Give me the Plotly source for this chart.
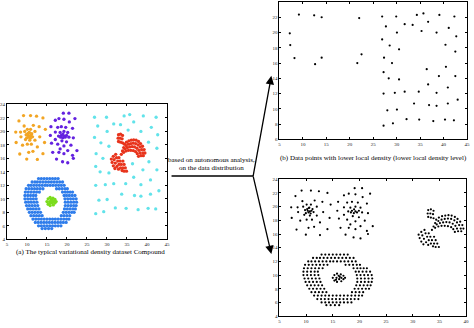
import plotly.graph_objects as go

W, H = 474, 328

# ---------------- Compound dataset, one list of (x, y) per cluster ----------------
# outer (low density) members of the two upper-left clusters
orange_sparse = [(9.15, 22.35), (12.4, 22.25), (14.0, 22.0), (7.2, 19.9), (7.3, 18.35),
                 (8.2, 16.65), (12.6, 15.85), (14.0, 16.7)]
orange_dense = [(10.9, 22.35), (8.0, 21.55), (11.6, 20.9), (9.3, 20.8), (10.1, 20.3),
                (10.9, 20.3), (13.05, 20.7), (8.4, 19.9), (9.45, 20.0), (10.6, 19.85),
                (11.2, 19.65), (10.3, 19.4), (10.7, 19.3), (10.45, 19.15), (11.0, 19.4),
                (9.95, 19.05), (12.0, 20.0), (13.2, 19.2), (8.5, 19.2), (9.65, 18.8),
                (10.7, 18.7), (12.0, 18.7), (8.9, 17.95), (10.1, 18.1), (11.1, 18.1),
                (12.6, 17.7), (11.5, 17.05), (10.45, 16.9), (9.95, 15.9), (14.6, 20.3),
                (14.4, 18.35), (10.2, 19.65), (10.85, 19.0), (9.8, 19.5), (11.4, 19.2),
                (10.5, 19.8)]
purple_sparse = [(22.0, 21.9), (22.5, 17.15), (21.6, 16.0)]
purple_dense = [(19.1, 22.7), (20.5, 22.7), (17.1, 21.65), (18.0, 21.9), (19.25, 21.8),
                (20.6, 21.4), (16.0, 20.7), (17.7, 20.6), (18.6, 20.7), (19.7, 20.6),
                (21.4, 20.45), (17.1, 19.9), (18.3, 19.85), (19.25, 20.0), (20.2, 19.85),
                (18.6, 19.4), (19.25, 19.3), (18.95, 19.05), (19.55, 19.15), (17.9, 19.3),
                (20.5, 19.15), (21.6, 19.05), (15.85, 19.4), (17.1, 18.8), (18.75, 18.6),
                (19.9, 18.45), (17.7, 18.1), (16.15, 18.25), (19.25, 17.85), (21.0, 17.95),
                (18.3, 17.4), (20.2, 17.15), (16.45, 16.9), (18.0, 16.9), (19.25, 16.7),
                (21.4, 16.45), (17.4, 15.9), (18.9, 15.5), (20.2, 15.35), (19.0, 19.6),
                (18.4, 19.15), (19.9, 19.4)]

# ring cluster, listed row by row (row y, then the x of each point in the row)
ring_row_y = [13.0, 12.5, 12.0, 11.5, 11.0, 10.5, 10.0, 9.5, 9.0, 8.5, 8.0, 7.5, 7.0,
              6.5, 6.0, 5.6]
ring_row_x = [
    [12.9, 13.6, 14.3, 15.0, 15.7, 16.4, 17.1, 17.8],
    [11.3, 12.0, 12.6, 13.3, 14.0, 14.7, 15.4, 16.1, 16.8, 17.5, 18.2, 18.9],
    [10.4, 11.0, 11.7, 12.4, 13.1, 13.8, 14.5, 15.1, 15.8, 16.5, 17.2, 17.9, 18.6, 19.3],
    [9.8, 10.5, 11.2, 11.9, 12.6, 13.3, 14.0, 17.4, 18.1, 18.8, 19.5, 20.1],
    [9.6, 10.3, 11.0, 11.7, 12.4, 13.1, 18.9, 19.6, 20.2, 20.8, 21.4],
    [9.5, 10.2, 10.9, 11.6, 12.2, 19.3, 19.9, 20.6, 21.3, 22.0],
    [9.5, 10.2, 10.9, 11.6, 12.3, 19.5, 20.2, 20.9, 21.6, 22.3],
    [9.7, 10.4, 11.1, 11.8, 12.5, 19.6, 20.3, 21.0, 21.7, 22.4],
    [9.9, 10.6, 11.3, 12.0, 12.7, 19.6, 20.3, 21.0, 21.7, 22.3],
    [10.2, 10.9, 11.6, 12.3, 13.0, 19.4, 20.1, 20.8, 21.5, 22.1],
    [10.6, 11.3, 12.0, 12.7, 13.4, 19.1, 19.8, 20.5, 21.2, 21.8],
    [11.0, 11.7, 12.4, 13.1, 13.8, 18.6, 19.3, 20.0, 20.7],
    [11.5, 12.2, 12.9, 13.6, 14.3, 15.0, 15.7, 16.4, 17.1, 17.8, 18.5, 19.2, 19.9, 20.5],
    [12.1, 12.8, 13.5, 14.2, 14.9, 15.6, 16.3, 17.0, 17.7, 18.4, 19.1, 19.8],
    [12.9, 13.6, 14.3, 15.0, 15.7, 16.4, 17.1, 17.8, 18.5],
    [13.8, 14.6, 15.4, 16.2],
]

core = [(15.0, 9.6), (15.3, 10.0), (15.3, 9.2), (15.7, 9.6), (15.8, 10.2), (15.8, 9.0),
        (16.1, 9.9), (16.2, 9.4), (16.5, 10.1), (16.6, 9.6), (16.6, 9.1), (17.0, 9.9),
        (17.0, 9.4), (17.3, 9.6), (15.6, 9.3), (16.3, 9.75)]

moon = [
    # upper-left lobe
    (32.9, 19.5), (33.4, 19.6), (33.9, 19.4), (32.8, 19.0), (33.3, 19.0), (33.8, 18.9),
    (32.9, 18.5), (33.4, 18.4), (33.9, 18.3),
    # curved bands
    (34.4, 18.1), (34.9, 18.4), (35.5, 18.6), (36.1, 18.7), (36.7, 18.75), (37.3, 18.7),
    (37.9, 18.5), (38.4, 18.2), (38.9, 17.8), (39.3, 17.3), (39.5, 16.8),
    (34.2, 17.6), (34.8, 17.9), (35.4, 18.1), (36.0, 18.2), (36.6, 18.25), (37.2, 18.2),
    (37.8, 18.0), (38.3, 17.7), (38.7, 17.3), (39.0, 16.8), (39.1, 16.4),
    (33.9, 17.1), (34.5, 17.4), (35.1, 17.6), (35.7, 17.7), (36.3, 17.75), (36.9, 17.7),
    (37.5, 17.5), (38.0, 17.2), (38.3, 16.8), (38.5, 16.4),
    (33.6, 16.6), (34.2, 16.9), (34.8, 17.1), (35.4, 17.2), (36.0, 17.2), (36.6, 17.15),
    (37.2, 17.0), (37.6, 16.7), (37.9, 16.3),
    # lower-left lobe
    (31.1, 15.9), (31.3, 15.4), (31.6, 14.9), (32.0, 14.5),
    (31.6, 16.3), (31.8, 15.8), (32.1, 15.3), (32.5, 14.8), (32.9, 14.4),
    (32.2, 16.6), (32.4, 16.1), (32.7, 15.6), (33.0, 15.1), (33.4, 14.6), (33.8, 14.2),
    (33.0, 16.1), (33.3, 15.6), (33.6, 15.1), (34.0, 14.6), (34.3, 14.1),
    (34.0, 15.6), (34.3, 15.1), (34.6, 14.6), (34.9, 14.1),
]

background = [(26.9, 22.1), (27.7, 20.8), (26.9, 19.1), (28.5, 18.3), (29.9, 22.1),
              (30.05, 20.0), (30.5, 17.8), (31.7, 21.1), (33.4, 21.0), (34.3, 22.3),
              (35.7, 22.5), (36.7, 21.4), (35.3, 20.2), (38.5, 20.0), (39.1, 22.3),
              (41.1, 20.6), (42.3, 22.1), (42.7, 19.5), (40.4, 18.4), (42.5, 17.5),
              (27.3, 16.7), (29.0, 16.0), (27.2, 14.8), (28.3, 14.0), (30.5, 13.85),
              (36.4, 15.2), (40.5, 15.5), (39.0, 14.3), (36.7, 13.2), (42.5, 14.3),
              (40.9, 12.8), (27.2, 12.0), (29.6, 12.1), (31.7, 12.25), (34.7, 12.25),
              (38.5, 12.1), (43.0, 11.2), (33.7, 10.7), (36.9, 10.5), (38.5, 10.4),
              (40.9, 10.7), (28.0, 9.8), (30.05, 9.9), (32.1, 8.65), (34.8, 8.6),
              (37.8, 8.4), (40.3, 8.6), (42.2, 8.5), (27.2, 7.8), (29.2, 8.1)]

ring = [(x, y) for y, xs in zip(ring_row_y, ring_row_x) for x in xs]

colors = {"orange": "#F2A524", "purple": "#6422E0", "ring": "#2F7DEB",
          "core": "#7BDC1C", "moon": "#E8341C", "background": "#62E3EA"}

left_groups = [
    (orange_dense + orange_sparse, colors["orange"]),
    (purple_dense + purple_sparse, colors["purple"]),
    (ring, colors["ring"]),
    (core, colors["core"]),
    (moon, colors["moon"]),
    (background, colors["background"]),
]
low_density = orange_sparse + purple_sparse + background
high_density = orange_dense + orange_sparse + purple_dense + purple_sparse + ring + core + moon


def xs(pts):
    return [p[0] for p in pts]


def ys(pts):
    return [p[1] for p in pts]


def px_dom(a, b):
    return [a / W, b / W]


def py_dom(top, bottom):
    return [1 - bottom / H, 1 - top / H]


fig = go.Figure()

for pts, col in left_groups:
    fig.add_trace(go.Scatter(x=xs(pts), y=ys(pts), mode="markers", xaxis="x", yaxis="y",
                             marker=dict(size=3.3, color=col, line=dict(width=0)),
                             showlegend=False, hoverinfo="skip"))

fig.add_trace(go.Scatter(x=xs(low_density), y=ys(low_density), mode="markers",
                         xaxis="x2", yaxis="y2",
                         marker=dict(size=2.2, color="black", line=dict(width=0)),
                         showlegend=False, hoverinfo="skip"))

fig.add_trace(go.Scatter(x=xs(high_density), y=ys(high_density), mode="markers",
                         xaxis="x3", yaxis="y3",
                         marker=dict(size=2.2, color="black", line=dict(width=0)),
                         showlegend=False, hoverinfo="skip"))

tick_font = dict(family="Liberation Serif", size=5, color="#222")
axis_common = dict(showline=True, linecolor="black", linewidth=0.8, mirror="allticks",
                   ticks="inside", ticklen=2, tickwidth=0.6, tickcolor="black",
                   showgrid=False, zeroline=False, tickfont=tick_font, fixedrange=True)

fig.update_layout(
    width=W, height=H,
    margin=dict(l=0, r=0, t=0, b=0),
    paper_bgcolor="white", plot_bgcolor="white",
    xaxis=dict(domain=px_dom(4, 166), range=[5, 45], tickvals=list(range(5, 46, 5)),
               anchor="y", **axis_common),
    yaxis=dict(domain=py_dom(104, 241), range=[4, 24], tickvals=list(range(4, 25, 2)),
               anchor="x", **axis_common),
    xaxis2=dict(domain=px_dom(280, 470), range=[5, 45], tickvals=list(range(5, 46, 5)),
                anchor="y2", **axis_common),
    yaxis2=dict(domain=py_dom(0, 139.5), range=[6, 24], tickvals=list(range(6, 25, 2)),
                anchor="x2", **axis_common),
    xaxis3=dict(domain=px_dom(280, 469), range=[5, 40], tickvals=list(range(5, 41, 5)),
                anchor="y3", **axis_common),
    yaxis3=dict(domain=py_dom(180, 319), range=[4, 24], tickvals=list(range(4, 25, 2)),
                anchor="x3", **axis_common),
)

text_font = dict(family="Liberation Serif", size=7, color="black")


def paper_pt(px, py):
    return px / W, 1 - py / H


annots = []
for label, cx, cy in [
    ("(a) The typical variational density dataset Compound", 88.5, 254),
    ("(b) Data points with lower local density (lower local density level)", 375, 158),
    ("based on autonomous analysis,", 211, 160),
    ("on the data distribution", 211.5, 168.3),
]:
    x, y = paper_pt(cx, cy)
    annots.append(dict(x=x, y=y, xref="paper", yref="paper", text=label, showarrow=False,
                       font=text_font, xanchor="center", yanchor="middle"))

# branching arrows from the end of the horizontal stroke
tail = (253.3, 176.7)
for tip in [(271.8, 75.0), (271.8, 256.0)]:
    x, y = paper_pt(*tip)
    annots.append(dict(x=x, y=y, xref="paper", yref="paper", text="", showarrow=True,
                       axref="pixel", ayref="pixel",
                       ax=tail[0] - tip[0], ay=tail[1] - tip[1],
                       arrowhead=2, arrowsize=1.3, arrowwidth=1.3, arrowcolor="black",
                       standoff=0, startstandoff=0))
fig.update_layout(annotations=annots)

x0, y0 = paper_pt(170.7, tail[1])
x1, y1 = paper_pt(*tail)
fig.add_shape(type="line", xref="paper", yref="paper", x0=x0, y0=y0, x1=x1, y1=y1,
              line=dict(color="black", width=1.3))

fig.write_html("out.html")
